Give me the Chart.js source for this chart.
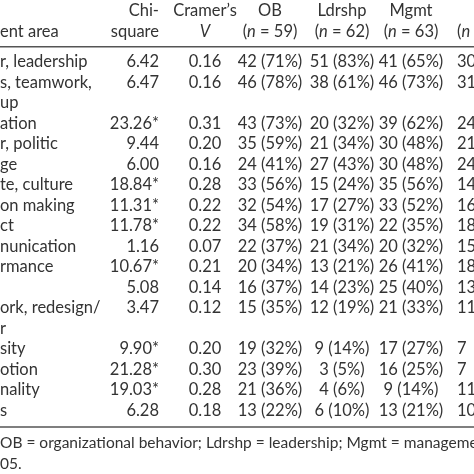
<!DOCTYPE html>
<html><head><meta charset="utf-8">
<script src="https://cdn.jsdelivr.net/npm/chart.js@4/dist/chart.umd.min.js"></script>
<style>html,body{margin:0;background:#fff}#wrap{width:474px;height:474px}</style>
</head><body><div id="wrap"><canvas id="tbl"></canvas></div>
<script>
// visible (cropped) row labels, and which text line each row sits on
const labels = ['r, leadership', 's, teamwork,', 'ation', 'r, politic', 'ge', 'te, culture', 'on making', 'ct',
  'nunication', 'rmance', '', 'ork, redesign/', 'sity', 'otion', 'nality', 's'];
const labelWrap = { 1: 'up', 11: 'r' };
const lines = [0, 1, 3, 4, 5, 6, 7, 8, 9, 10, 11, 12, 14, 15, 16, 17];
const chiSquare = ['6.42', '6.47', '23.26*', '9.44', '6.00', '18.84*', '11.31*', '11.78*', '1.16', '10.67*', '5.08', '3.47', '9.90*', '21.28*', '19.03*', '6.28'];
const cramersV = ['0.16', '0.16', '0.31', '0.20', '0.16', '0.28', '0.22', '0.22', '0.07', '0.21', '0.14', '0.12', '0.20', '0.30', '0.28', '0.18'];
const ob = ['42 (71%)', '46 (78%)', '43 (73%)', '35 (59%)', '24 (41%)', '33 (56%)', '32 (54%)', '34 (58%)', '22 (37%)', '20 (34%)', '16 (37%)', '15 (35%)', '19 (32%)', '23 (39%)', '21 (36%)', '13 (22%)'];
const ldrshp = ['51 (83%)', '38 (61%)', '20 (32%)', '21 (34%)', '27 (43%)', '15 (24%)', '17 (27%)', '19 (31%)', '21 (34%)', '13 (21%)', '14 (23%)', '12 (19%)', '9 (14%)', '3 (5%)', '4 (6%)', '6 (10%)'];
const mgmt = ['41 (65%)', '46 (73%)', '39 (62%)', '30 (48%)', '30 (48%)', '35 (56%)', '33 (52%)', '22 (35%)', '20 (32%)', '26 (41%)', '25 (40%)', '21 (33%)', '17 (27%)', '16 (25%)', '9 (14%)', '13 (21%)'];
const mix = ['30', '31', '24', '21', '24', '14', '16', '18', '15', '18', '13', '11', '7', '7', '11', '10'];
const headers = [['', 'ent area'], ['Chi-', 'square'], ['Cramer\u2019s', 'V'], ['OB', '(n = 59)'], ['Ldrshp', '(n = 62)'], ['Mgmt', '(n = 63)'], ['', '(n']];
const footnote = ['OB = organizational behavior; Ldrshp = leadership; Mgmt = management; Mix = m', '05.'];

const cols = [
  { x: 0, align: 'left' }, { x: 159, align: 'right' }, { x: 205, align: 'center' },
  { x: 270, align: 'center' }, { x: 342, align: 'center' }, { x: 411, align: 'center' }, { x: 457, align: 'left' }
];

const FONT = '16.5px Lato, "Open Sans", sans-serif';
const IFONT = 'italic 16.5px Lato, "Open Sans", sans-serif';

const tablePlugin = {
  id: 'table',
  afterDraw(chart) {
    const c = chart.ctx, xs = chart.scales.x, ys = chart.scales.y;
    const px = v => xs.getPixelForValue(v), py = v => ys.getPixelForValue(v);
    c.save();
    c.fillStyle = '#333';
    c.textBaseline = 'middle';
    c.font = FONT;
    const put = (t, col, line) => {
      c.textAlign = cols[col].align;
      c.fillText(t, px(cols[col].x), py(line));
    };
    // text with italic "n" / "V"
    const putMixed = (t, col, line) => {
      const parts = t.split(/(n|V)(?= |$)/);
      const widths = parts.map((p, k) => { c.font = k % 2 ? IFONT : FONT; return c.measureText(p).width; });
      const total = widths.reduce((a, b) => a + b, 0);
      let x = px(cols[col].x);
      if (cols[col].align === 'center') x -= total / 2;
      else if (cols[col].align === 'right') x -= total;
      c.textAlign = 'left';
      parts.forEach((p, k) => { c.font = k % 2 ? IFONT : FONT; c.fillText(p, x, py(line)); x += widths[k]; });
      c.font = FONT;
    };
    headers.forEach((h, i) => {
      if (h[0]) put(h[0], i, -2.5);
      if (h[1]) putMixed(h[1], i, -1.5);
    });
    const colsData = [labels, chiSquare, cramersV, ob, ldrshp, mgmt, mix];
    lines.forEach((ln, r) => {
      colsData.forEach((arr, i) => { if (arr[r]) put(arr[r], i, ln); });
      if (labelWrap[r]) put(labelWrap[r], 0, ln + 1);
    });
    c.strokeStyle = '#555';
    c.lineWidth = 1.5;
    [-0.75, 17.8].forEach(v => {
      c.beginPath(); c.moveTo(0, py(v)); c.lineTo(chart.width, py(v)); c.stroke();
    });
    c.textAlign = 'left';
    c.font = '15.5px Lato, "Open Sans", sans-serif';
    c.fillText(footnote[0], 0, py(18.6));
    c.fillText(footnote[1], 0, py(19.6));
    c.restore();
  }
};

new Chart(document.getElementById('tbl'), {
  type: 'scatter',
  data: { datasets: [{ data: [] }] },
  options: {
    responsive: true, maintainAspectRatio: false, animation: false,
    layout: { padding: 0 },
    plugins: { legend: { display: false }, tooltip: { enabled: false } },
    scales: {
      x: { display: false, min: 0, max: 474 },
      y: { display: false, reverse: true, min: -62 / 20.5, max: (474 - 62) / 20.5 }
    }
  },
  plugins: [tablePlugin]
});
</script></body></html>
